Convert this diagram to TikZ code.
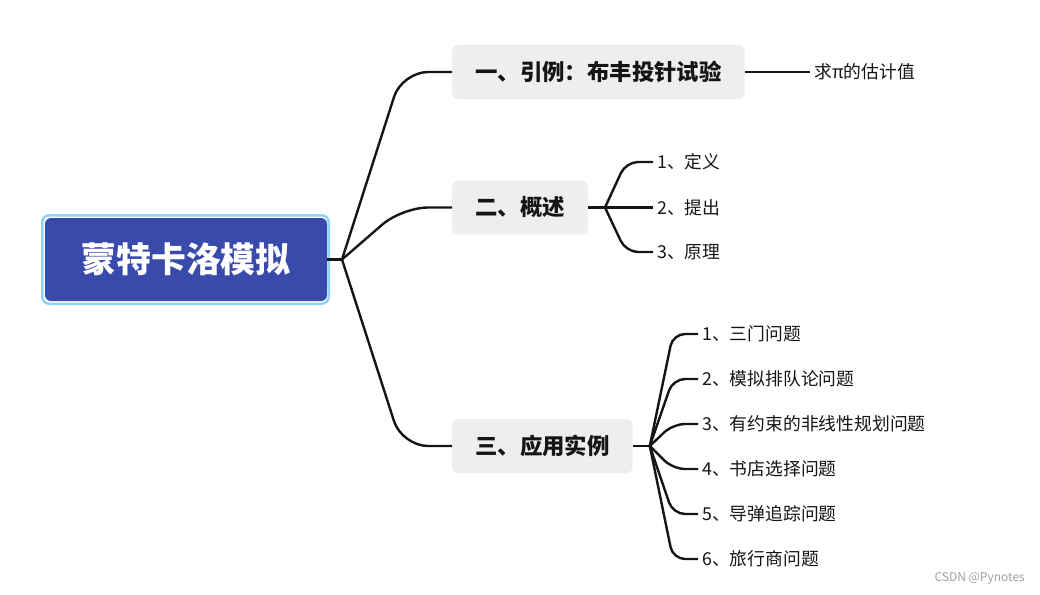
\documentclass[tikz,border=0pt]{standalone}
\usepackage{fontspec}
\setmainfont{Noto Sans CJK SC}
\usetikzlibrary{calc}
\definecolor{rootblue}{HTML}{3A4AAB}
\definecolor{framebl}{HTML}{8ED4F8}
\definecolor{boxgray}{HTML}{EEEEEE}
\definecolor{ink}{HTML}{151515}
\definecolor{wmgray}{HTML}{A0A0A0}
\begin{document}
\begin{tikzpicture}[x=1pt,y=-1pt,
 link/.style={draw=ink, line width=2.4pt, rounded corners=#1}, link/.default=12pt,
 rootbox/.style={fill=rootblue, rounded corners=6pt, minimum width=282pt, minimum height=83pt, inner sep=0pt, text=white, font=\fontsize{34.8}{40}\selectfont\bfseries},
 rootframe/.style={draw=framebl, line width=2.5pt, rounded corners=7pt, minimum width=286.5pt, minimum height=88.5pt, inner sep=0pt},
 topic/.style={fill=boxgray, rounded corners=6pt, anchor=west, inner xsep=23pt, inner ysep=0pt, minimum height=54pt, text=ink, font=\fontsize{22.4}{26}\selectfont\bfseries},
 leaf/.style={anchor=west, inner xsep=4pt, inner ysep=0pt, text=ink, font=\fontsize{17.8}{21}\selectfont},
 wmark/.style={anchor=east, inner sep=0pt, text=wmgray, font=\fontsize{12}{14}\selectfont},
]
\useasboundingbox (0,0) rectangle (1040,594);
\node[rootframe] (frame) at (185.5,259.5) {};
\node[rootbox] (root) at (186,259.5) {蒙特卡洛模拟};
\coordinate (j0) at (342,259.5);
\coordinate (k0) at (402,0);
\node[topic] (b1) at (452,72) {一、引例：布丰投针试验};
\node[topic] (b2) at (452,207.5) {二、概述};
\node[topic] (b3) at (452,446) {三、应用实例};
\draw[link] (root.east) -- (j0);
\foreach \bb in {b1,b2,b3} \draw[link=26pt] (j0) -- (k0 |- \bb.west) -- (\bb.west);
% branch 1
\node[leaf] (l11) at (810,72) {求π的估计值};
\draw[link] (b1.east) -- (l11.west);
% branch 2
\coordinate (j2) at ($(b2.east)+(17,0)$);
\coordinate (k2) at (626,0);
\node[leaf] (l21) at (653,162) {1、定义};
\node[leaf] (l22) at (653,207.5) {2、提出};
\node[leaf] (l23) at (653,252) {3、原理};
\draw[link] (b2.east) -- (j2);
\foreach \ll in {l21,l22,l23} \draw[link] (j2) -- (k2 |- \ll.west) -- (\ll.west);
% branch 3
\coordinate (j3) at ($(b3.east)+(17,0)$);
\coordinate (k3) at (673,0);
\node[leaf] (l31) at (698,334) {1、三门问题};
\node[leaf] (l32) at (698,379) {2、模拟排队论问题};
\node[leaf] (l33) at (698,424) {3、有约束的非线性规划问题};
\node[leaf] (l34) at (698,469) {4、书店选择问题};
\node[leaf] (l35) at (698,514) {5、导弹追踪问题};
\node[leaf] (l36) at (698,559) {6、旅行商问题};
\draw[link] (b3.east) -- (j3);
\foreach \ll in {l31,l32,l33,l34,l35,l36} \draw[link] (j3) -- (k3 |- \ll.west) -- (\ll.west);
\node[wmark] (wm) at (1025,578) {CSDN @Pynotes};
\end{tikzpicture}
\end{document}
